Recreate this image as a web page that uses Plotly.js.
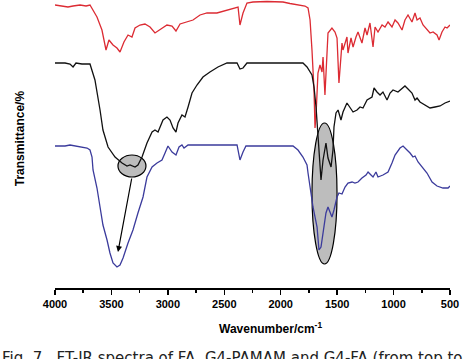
<!DOCTYPE html>
<html>
<head>
<meta charset="utf-8">
<script src="https://cdn.plot.ly/plotly-3.0.1.min.js"></script>
<style>html,body{margin:0;padding:0;background:#fff;}#chart{width:474px;height:359px;}</style>
</head>
<body>
<div id="chart"></div>
<script>
// FA (top, red)
const faWavenumber = [4000,3938,3885,3840,3778,3725,3690,3628,3584,3548,3522,3486,3451,3424,3389,3353,3318,3291,3247,3203,3158,3114,3070,3008,2963,2928,2892,2830,2777,2715,2653,2565,2476,2405,2378,2361,2334,2299,2246,2122,1980,1918,1829,1785,1758,1740,1723,1705,1696,1687,1670,1652,1634,1625,1608,1590,1581,1546,1519,1501,1484,1457,1448,1413,1404,1377,1359,1333,1315,1280,1253,1235,1209,1182,1164,1138,1102,1076,1049,1014,987,961,925,899,872,837,810,792,766,739,704,677,650,615,597,571,544,526,500];
const faTransmittance = [283,282,281,282,283,282,283,271,258,238,248,243,240,236,246,253,251,260,263,264,261,255,258,263,262,257,264,266,268,273,275,275,278,280,281,263,275,285,286,286.5,286,284.5,283,282,280,268,238,198,160,173,215,223,216,231,193,248,255,260,256,250,205,245,238,251,235,250,241,251,256,245,260,253,265,241,261,256,263,261,266,261,268,265,258,268,273,266,275,268,270,263,258,255,256,253,248,256,261,260,263];

// G4-PAMAM (middle, black)
const pamamWavenumber = [4000,3911,3867,3840,3814,3761,3690,3646,3601,3575,3530,3468,3406,3362,3335,3291,3265,3229,3185,3140,3114,3087,3043,3008,2981,2954,2928,2910,2875,2848,2821,2786,2742,2689,2627,2556,2476,2387,2361,2334,2299,1803,1767,1740,1723,1705,1687,1670,1661,1643,1625,1599,1581,1554,1537,1528,1510,1492,1466,1448,1413,1386,1359,1324,1297,1271,1235,1191,1173,1147,1120,1094,1058,1031,1005,961,925,899,872,837,810,792,766,721,677,633,588,544,500];
const pamamTransmittance = [225,225,224,221,225,224,224,208,178,158,141,131,125,122,123,121,123,131,145,156,158,156,168,171,168,160,156,165,173,171,181,195,203,211,216,221,225,225,219,220,225,225,221,216,213,201,181,153,135,108,128,145,130,121,138,161,175,178,168,176,185,181,176,178,181,180,188,191,200,196,193,196,188,195,198,196,200,202,199,195,188,190,186,183,180,181,182,185,187];

// G4-FA (bottom, blue)
const g4faWavenumber = [4000,3911,3867,3823,3752,3716,3690,3672,3663,3628,3601,3575,3539,3513,3486,3451,3424,3397,3353,3309,3265,3220,3185,3140,3096,3052,3025,2999,2963,2928,2901,2875,2857,2821,2387,2378,2361,2334,2308,1891,1847,1803,1767,1758,1723,1714,1678,1661,1643,1625,1599,1581,1563,1546,1528,1501,1484,1457,1430,1404,1368,1342,1315,1280,1244,1226,1200,1182,1156,1138,1094,1049,1014,987,943,916,881,854,828,810,783,748,704,659,615,562,517,500];
const g4faTransmittance = [142,142,143,142,141,140,138,131,118,100,81,63,48,35,25,21,23,30,45,58,75,91,111,121,125,128,135,142,136,133,141,143,140,143,143,138,128,136,142,142,138,131,123,115,91,81,61,38,41,55,75,81,75,71,78,91,95,94,101,105,106,105,106,110,113,116,113,111,116,111,113,116,125,133,140,142,138,135,131,132,126,121,115,106,102,100,100,102];

const xTickVals = [4000,3500,3000,2500,2000,1500,1000,500];
const xTickText = ['4000','3500','3000','2500','2000','1500','1000','500'];

const lineW = 1.3;
const traces = [
  {x: faWavenumber, y: faTransmittance, mode: 'lines', name: 'FA', line: {color: '#dc2b33', width: lineW}},
  {x: pamamWavenumber, y: pamamTransmittance, mode: 'lines', name: 'G4-PAMAM', line: {color: '#111111', width: lineW}},
  {x: g4faWavenumber, y: g4faTransmittance, mode: 'lines', name: 'G4-FA', line: {color: '#3b3b9c', width: lineW}}
];

const layout = {
  width: 474, height: 359,
  margin: {l: 55, r: 24, t: 0, b: 71},
  paper_bgcolor: '#ffffff', plot_bgcolor: '#ffffff',
  showlegend: false,
  xaxis: {
    range: [4000, 500], showgrid: false, zeroline: false,
    showline: true, linecolor: '#000', linewidth: 1.5,
    ticks: 'outside', ticklen: 5, tickwidth: 1.5, tickcolor: '#000',
    tickvals: xTickVals, ticktext: xTickText,
    tickfont: {family: 'Liberation Sans, Arial, sans-serif', size: 11, color: '#000', weight: 'bold'},
    minor: {ticks: 'outside', ticklen: 3, tickwidth: 1.5, tickcolor: '#000', dtick: 250, showgrid: false}
  },
  yaxis: {
    range: [0, 288], showgrid: false, zeroline: false, showline: false,
    showticklabels: false, ticks: ''
  },
  shapes: [
    {type: 'circle', xref: 'x', yref: 'y', x0: 3442, x1: 3194, y0: 111, y1: 133,
     fillcolor: '#bdbdbd', line: {color: '#000', width: 1.2}, layer: 'below'},
    {type: 'circle', xref: 'x', yref: 'y', x0: 1723, x1: 1501, y0: 24, y1: 165,
     fillcolor: '#bdbdbd', line: {color: '#000', width: 1.2}, layer: 'below'}
  ],
  annotations: [
    {x: 3442, y: 36, xref: 'x', yref: 'y', ax: 3318, ay: 111, axref: 'x', ayref: 'y',
     showarrow: true, arrowhead: 2, arrowsize: 1, arrowwidth: 1.2, arrowcolor: '#000', text: ''},
    {text: 'Transmittance/%', xref: 'paper', yref: 'paper', x: 0, y: 0.52, xshift: -35,
     xanchor: 'center', yanchor: 'middle', textangle: -90, showarrow: false,
     font: {family: 'Liberation Sans, Arial, sans-serif', size: 12, color: '#000', weight: 'bold'}},
    {text: 'Wavenumber/cm<sup>-1</sup>', xref: 'paper', yref: 'paper', x: 0.545, y: 0, yshift: -40,
     xanchor: 'center', yanchor: 'middle', showarrow: false,
     font: {family: 'Liberation Sans, Arial, sans-serif', size: 12, color: '#000', weight: 'bold'}},
    {text: 'Fig. 7.  FT-IR spectra of FA, G4-PAMAM and G4-FA (from top to', xref: 'paper', yref: 'paper',
     x: 0, y: 0, xshift: -55, yshift: -70, xanchor: 'left', yanchor: 'middle', showarrow: false,
     font: {family: 'DejaVu Sans, sans-serif', size: 15, color: '#222'}}
  ]
};

Plotly.newPlot('chart', traces, layout, {displayModeBar: false, staticPlot: true});
</script>
</body>
</html>
